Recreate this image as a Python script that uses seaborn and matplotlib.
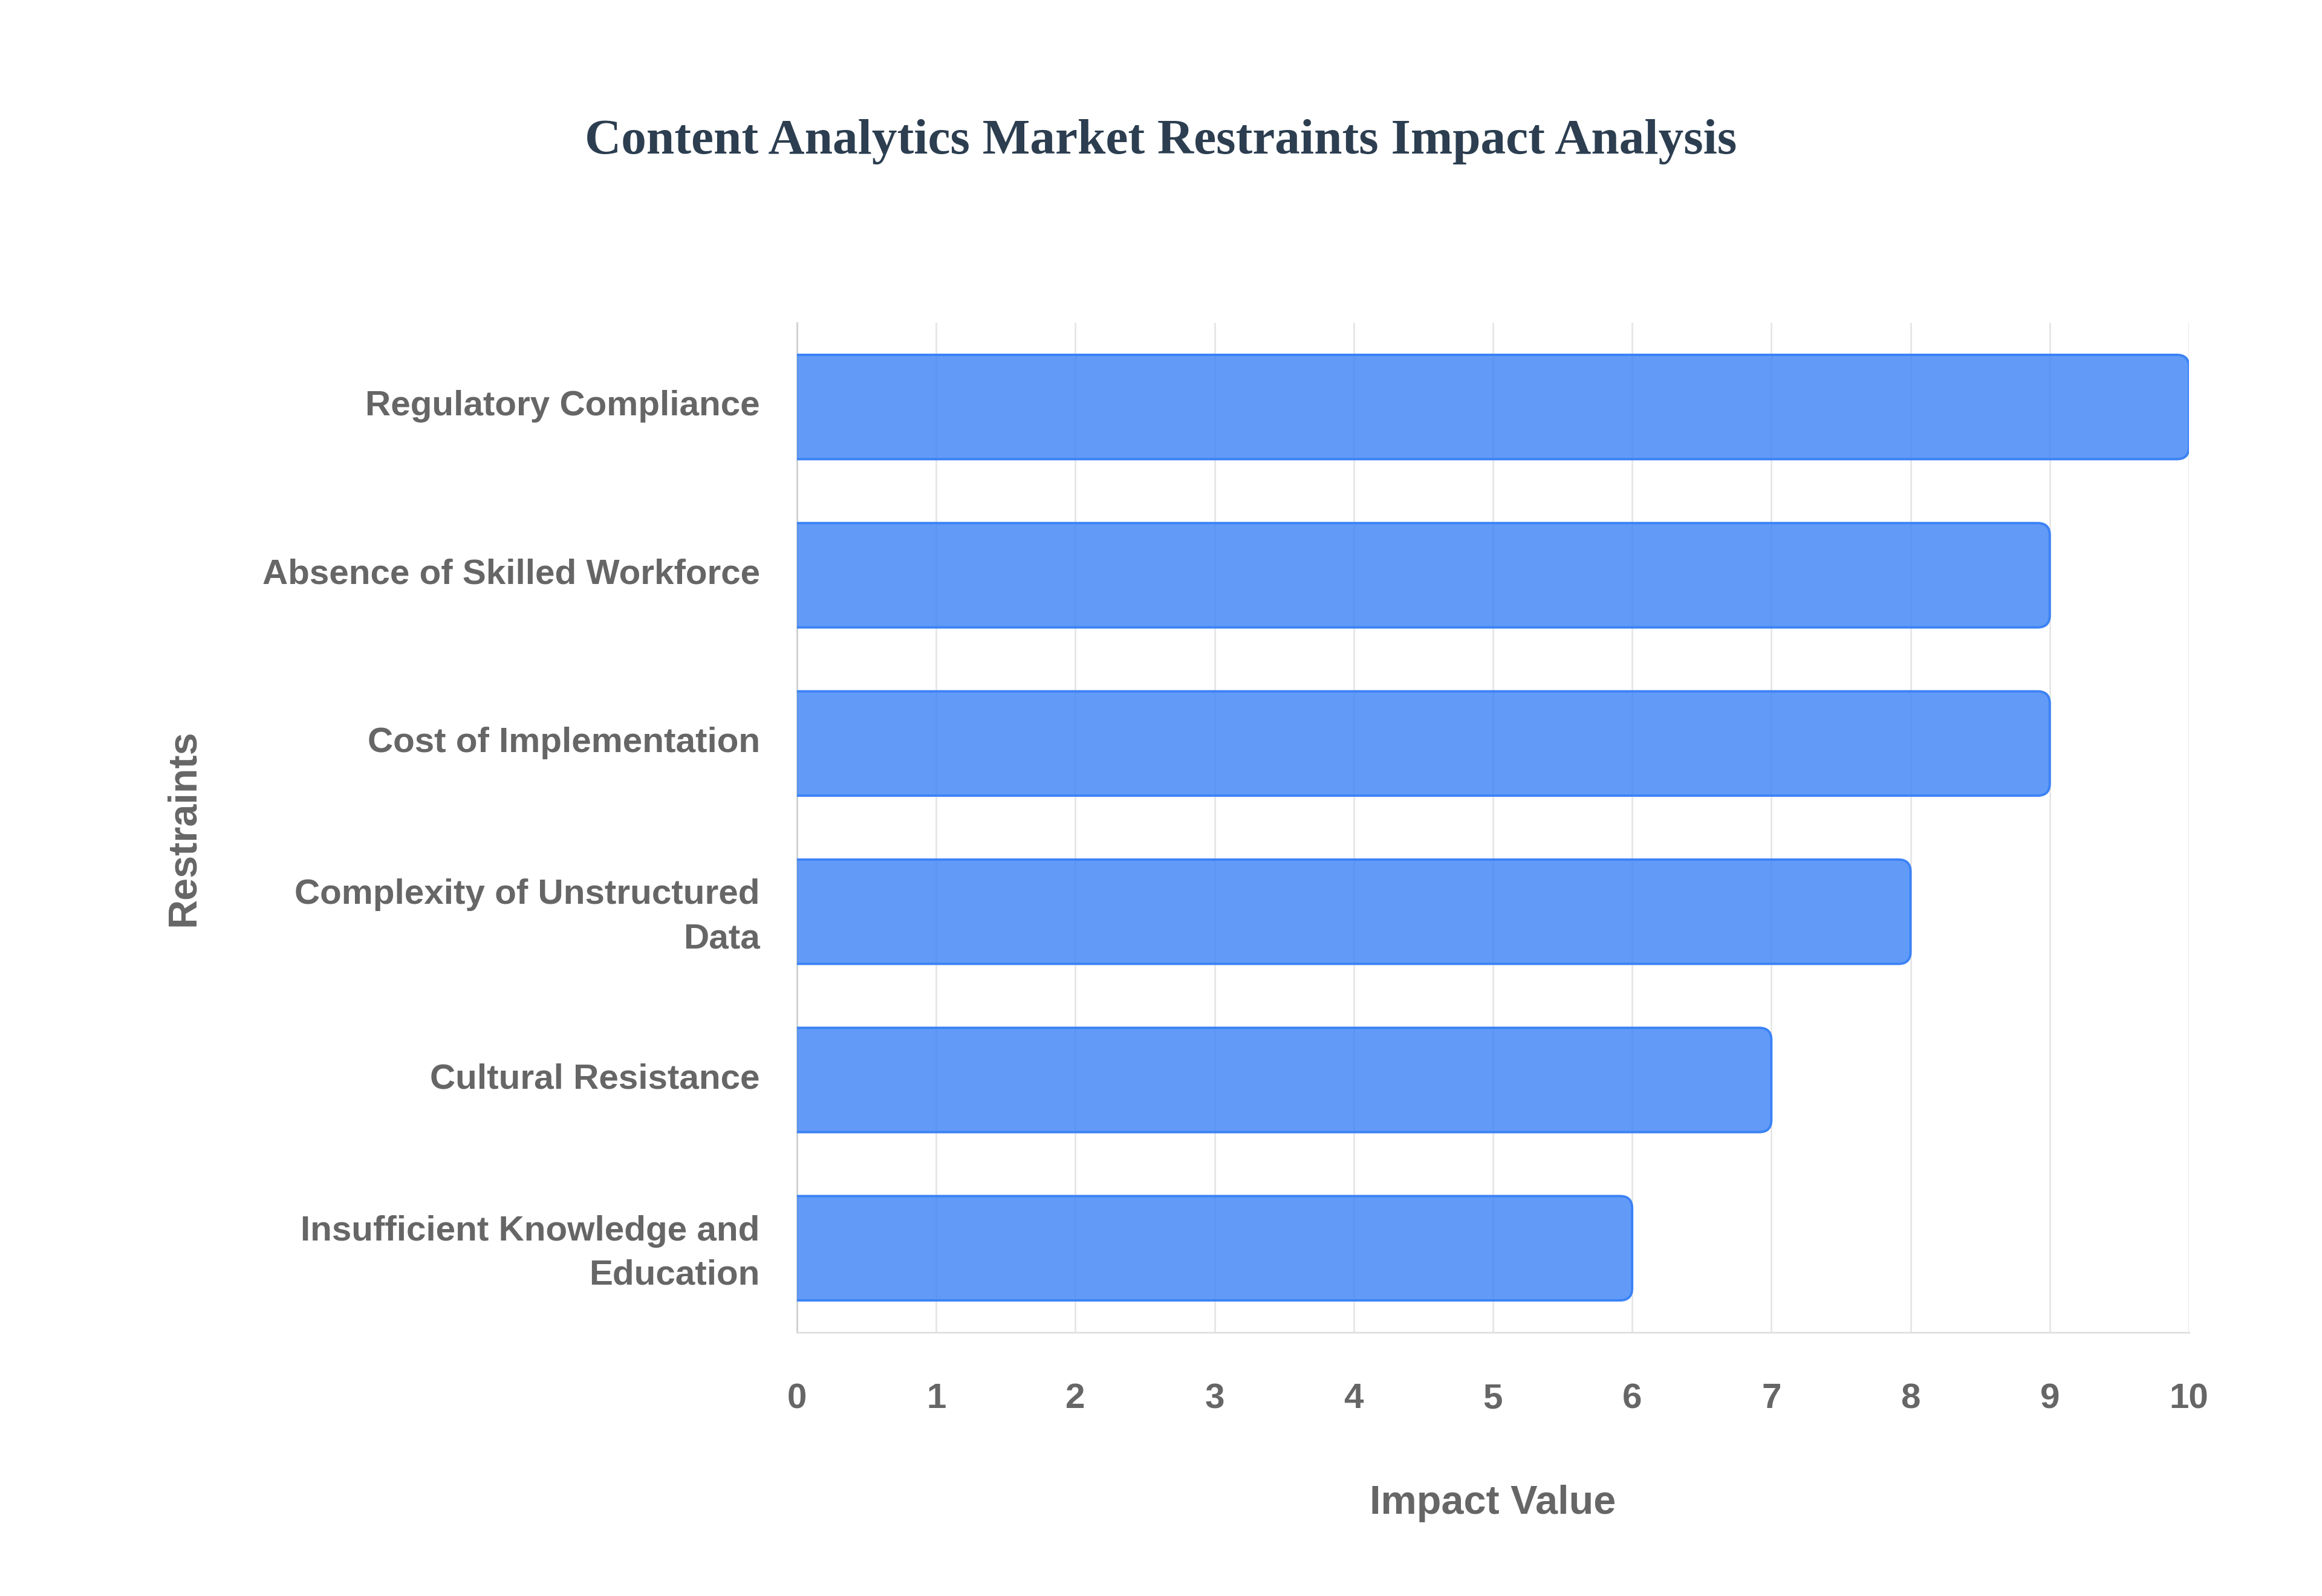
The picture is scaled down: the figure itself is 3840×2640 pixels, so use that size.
import matplotlib
matplotlib.use("Agg")
import matplotlib.pyplot as plt
import matplotlib.transforms as mtransforms
import seaborn as sns
import pandas as pd
from matplotlib.patches import FancyBboxPatch

# ---- data ----
restraints = [
    "Regulatory Compliance",
    "Absence of Skilled Workforce",
    "Cost of Implementation",
    "Complexity of Unstructured Data",
    "Cultural Resistance",
    "Insufficient Knowledge and Education",
]
impact = [10, 9, 9, 8, 7, 6]
restraint_tick_labels = [
    "Regulatory Compliance",
    "Absence of Skilled Workforce",
    "Cost of Implementation",
    "Complexity of Unstructured\nData",
    "Cultural Resistance",
    "Insufficient Knowledge and\nEducation",
]
x_ticks = [0, 1, 2, 3, 4, 5, 6, 7, 8, 9, 10]

title = "Content Analytics Market Restraints Impact Analysis"
x_label = "Impact Value"
y_label = "Restraints"

df = pd.DataFrame({"Restraint": restraints, "Impact": impact})

# ---- style ----
sns.set_style("white")
plt.rcParams["font.family"] = ["Liberation Sans", "DejaVu Sans"]

TEXT = "#666666"
GRID = "#e6e6e6"
FACE = (59 / 255, 130 / 255, 246 / 255, 0.8)
EDGE = "#3B82F6"

fig = plt.figure(figsize=(19.2, 13.2), dpi=200)
ax = fig.add_axes([0.3432, 0.1652, 0.5995, 0.6325])

sns.barplot(data=df, x="Impact", y="Restraint", orient="h", color=EDGE,
            width=0.62, ax=ax)

ax.set_xlim(0, 10)
ax.set_ylim(5.5, -0.5)

# replace plain bars by bars with rounded right end
p0 = ax.transData.transform((0, 0))
px_per_x = ax.transData.transform((1, 0))[0] - p0[0]
px_per_y = abs(ax.transData.transform((0, 1))[1] - p0[1])
radius_px = 20
rx = radius_px / px_per_x
ry = radius_px / px_per_y
aspect = ry / rx
for patch in list(ax.patches):
    x0, y0 = patch.get_x(), patch.get_y()
    w, h = patch.get_width(), patch.get_height()
    patch.set_visible(False)
    ext = 3 * rx
    fb = FancyBboxPatch((x0 - ext, y0), w + ext, h,
                        boxstyle=f"round,pad=0,rounding_size={rx}",
                        mutation_aspect=aspect,
                        facecolor=FACE, edgecolor=EDGE, linewidth=1.4,
                        clip_on=True, zorder=3)
    ax.add_patch(fb)

# grid / spines
ax.set_axisbelow(True)
ax.xaxis.grid(True, color=GRID, linewidth=1.0)
ax.yaxis.grid(False)
for s in ["top", "right"]:
    ax.spines[s].set_visible(False)
ax.spines["left"].set_color("#d0d0d0")
ax.spines["left"].set_linewidth(1.0)
ax.spines["bottom"].set_color("#e0e0e0")
ax.spines["bottom"].set_linewidth(1.0)

ax.set_xticks(x_ticks)
ax.set_xticklabels([str(t) for t in x_ticks])
ax.set_yticks(range(len(restraint_tick_labels)))
ax.set_yticklabels(restraint_tick_labels, linespacing=1.45)

ax.tick_params(axis="x", length=14, width=1.0, color=GRID, pad=16,
               labelsize=21, labelcolor=TEXT)
ax.tick_params(axis="y", length=0, pad=22, labelsize=21, labelcolor=TEXT)
shift_up = mtransforms.ScaledTranslation(0, 7 / 200, fig.dpi_scale_trans)
for lab in ax.get_xticklabels():
    lab.set_fontweight("bold")
for lab in ax.get_yticklabels():
    lab.set_fontweight("bold")
    lab.set_transform(lab.get_transform() + shift_up)

ax.set_xlabel(x_label, fontsize=24, fontweight="bold", color=TEXT)
ax.set_ylabel(y_label, fontsize=24, fontweight="bold", color=TEXT)
ax.xaxis.set_label_coords(0.5, -0.151)
ax.yaxis.set_label_coords(-0.427, 0.5)

fig.text(0.5, 0.911, title, ha="center", va="center", fontsize=30,
         fontweight="bold", color="#2c3e50",
         family=["Liberation Serif", "DejaVu Serif"])

fig.savefig("out.png", dpi=200, facecolor="white")
